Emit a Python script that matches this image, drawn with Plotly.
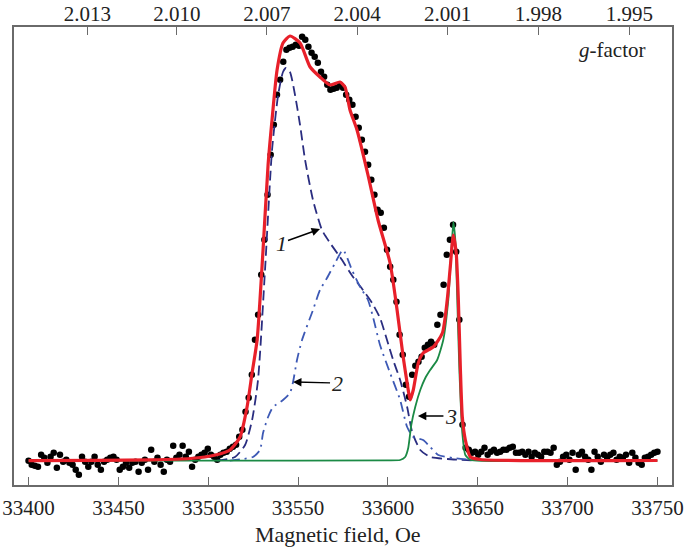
import plotly.graph_objects as go

# ---------------- data ----------------
# experimental spectrum: uniform field grid, intensities read from picture
field_start = 33400.0
field_step = 1.75
intensity = [
    0, -4, -5, -6, 6, 3, -2, 4, 8, -7,
    6, -1, 1, -2, -4, -9, -14, 4, -1, -6,
    -1, 4, -4, -9, -1, 1, 3, 4, 1, -9,
    -6, -2, -7, -2, -1, -11, -2, 1, -9, 11,
    -1, 3, -4, -11, 1, -1, 15, 3, 6, 15,
    4, 9, -6, 1, 4, 6, 8, 12, 6, 4,
    1, 6, 8, 9, 12, 14, 16, 24, 31, 49,
    63, 86, 121, 146, 186, 221, 266, 306, 336, 366,
    381, 399, 411, 413, 414, 416, 415, 424, 421, 414,
    408, 404, 398, 389, 384, 376, 371, 372, 373, 376,
    373, 366, 361, 356, 344, 333, 321, 309, 296, 281,
    266, 251, 248, 233, 211, 194, 181, 159, 126, 106,
    76, 64, 86, 95, 99, 104, 113, 116, 119, 116,
    136, 146, 176, 206, 221, 236, 209, 141, 36, 13,
    11, 8, 9, 6, 9, 13, 6, 9, 11, 8,
    9, 11, 11, 13, 14, 8, 8, 9, 6, 9,
    4, 8, 6, 4, 9, 9, 8, 13, -4, -1,
    4, 6, 1, 8, -9, 6, 9, 4, 1, -9,
    9, 4, -1, 6, 3, 6, 8, 1, 4, 3,
    6, -2, 8, 3, -2, -4, 3, 4, 6, 8,
    9,
]
field = [field_start + field_step * i for i in range(len(intensity))]

# total fit (red)
fit_field = [33400, 33440, 33468, 33490, 33504, 33512.1, 33517.7, 33521.6, 33524.4,
             33527.2, 33530.5, 33533.3, 33535.5, 33538.3, 33541.6, 33545.5, 33551.1,
             33556.7, 33562.2, 33567.8, 33573.3, 33576.1, 33578.9, 33582.8, 33588.9,
             33594.5, 33601.2, 33605.1, 33608.5, 33611.3, 33612.4, 33614.1, 33616.9,
             33619.6, 33625.2, 33630.3, 33633.0, 33634.7, 33636.4, 33638.0, 33639.2,
             33640.3, 33641.4, 33643.1, 33645.9, 33651.5, 33750]
fit_value = [0, 0.3, 0.8, 2.2, 5.7, 10.7, 23.7, 53.7, 87.7,
             120.7, 210.7, 295.7, 340.7, 390.7, 417.7, 424.7, 417.7,
             393.7, 383.7, 375.7, 378.7, 373.7, 350.7, 330.7, 285.7,
             240.7, 197.7, 150.7, 103.7, 70.7, 60.7, 70.7, 97.7,
             107.7, 113.7, 127.7, 160.7, 193.7, 225.7, 207.7, 160.7,
             93.7, 43.7, 20.7, 3.7, 1.2, 0.2]

# component 1 (dashed)
c1_field = [33505, 33514.9, 33520.5, 33524.4, 33527.7, 33531.6, 33535.5, 33538.9,
            33541.6, 33543.3, 33545.5, 33548.3, 33551.1, 33553.9, 33558.3, 33563.3,
            33567.8, 33573.3, 33580.6, 33586.1, 33591.2, 33595.6, 33599.5, 33602.9,
            33606.8, 33610.7, 33613.5, 33618.0, 33623.5, 33633.0, 33648.7]
c1_value = [0, 3.7, 15.7, 40.7, 80.7, 190.7, 310.7, 365.7,
            388.7, 392.7, 388.7, 365.7, 335.7, 300.7, 260.7, 230.7,
            217.7, 203.7, 183.7, 170.7, 157.7, 142.7, 120.7, 100.7,
            80.7, 53.7, 28.7, 10.7, 3.7, 1.7, 0.2]

# component 2 (dash-dot)
c2_field = [33512, 33519.4, 33524.9, 33528.8, 33530.5, 33533.3, 33536.1, 33541.6,
            33545.5, 33547.2, 33549.4, 33552.2, 33558.3, 33562.2, 33566.1, 33570.6,
            33575.0, 33580.0, 33584.5, 33588.9, 33591.7, 33595.6, 33601.2, 33606.8,
            33610.7, 33614.1, 33619.6, 33623.5, 33628.0, 33636.4, 33648.7]
c2_value = [0, 1.7, 3.7, 10.7, 27.7, 43.7, 53.7, 60.7,
            67.7, 78.7, 100.7, 120.7, 150.7, 170.7, 182.7, 197.7,
            210.7, 190.7, 173.7, 160.7, 143.7, 115.7, 87.7, 60.7,
            33.7, 23.7, 20.7, 13.7, 5.7, 2.7, 0.7]

# component 3 (green)
c3_field = [33400, 33500, 33600, 33606.8, 33609.6, 33611.3, 33613.0, 33615.2, 33618.0,
            33620.8, 33623.5, 33627.4, 33630.8, 33633.6, 33635.2, 33636.4, 33637.5,
            33638.6, 33639.7, 33641.4, 33643.1, 33645.9, 33700, 33750]
c3_value = [0, 0, 0.3, 0.7, 3.7, 12.7, 35.7, 53.7, 70.7,
            82.7, 90.7, 100.7, 120.7, 160.7, 207.7, 238.7, 220.7,
            160.7, 93.7, 27.7, 5.7, 0.7, 0, 0]

# axes ticks
field_ticks = [33400, 33450, 33500, 33550, 33600, 33650, 33700, 33750]
g_ticks = [2.013, 2.010, 2.007, 2.004, 2.001, 1.998, 1.995]
g_const = 67300.0  # h*nu/mu_B in Oe
g_tickvals = [g_const / g for g in g_ticks]
g_ticktext = ["%.3f" % g for g in g_ticks]

x_range = [33391.9, 33758.1]
y_range = [-24.3, 433.7]

FONT = "Liberation Serif, Times New Roman, serif"
AXC = "#6a6a6a"
TXT = "#222222"

fig = go.Figure()
fig.add_trace(go.Scatter(x=field, y=intensity, mode="markers",
                         marker=dict(color="black", size=6.5), hoverinfo="skip"))
fig.add_trace(go.Scatter(x=c1_field, y=c1_value, mode="lines",
                         line=dict(color="#2a2d80", width=1.8, dash="10px,5px",
                                   shape="spline", smoothing=0.6)))
fig.add_trace(go.Scatter(x=c2_field, y=c2_value, mode="lines",
                         line=dict(color="#3d59b5", width=1.8, dash="10px,5px,2px,5px",
                                   shape="spline", smoothing=0.6)))
fig.add_trace(go.Scatter(x=c3_field, y=c3_value, mode="lines",
                         line=dict(color="#1b8a45", width=1.8,
                                   shape="spline", smoothing=0.5)))
fig.add_trace(go.Scatter(x=fit_field, y=fit_value, mode="lines",
                         line=dict(color="#e8202a", width=3.2,
                                   shape="spline", smoothing=0.6)))
fig.add_trace(go.Scatter(x=[None], y=[None], xaxis="x2", mode="markers",
                         showlegend=False, hoverinfo="skip"))

fig.update_layout(
    width=685, height=550,
    margin=dict(l=14, r=13, t=27, b=65),
    plot_bgcolor="white", paper_bgcolor="white",
    showlegend=False,
    font=dict(family=FONT, size=21, color=TXT),
    xaxis=dict(range=x_range, tickvals=field_ticks, ticktext=[str(v) for v in field_ticks],
               ticks="inside", ticklen=8, tickwidth=1.3, tickcolor=AXC,
               showline=True, linecolor=AXC, linewidth=1.5,
               showgrid=False, zeroline=False, automargin=False,
               ticklabelstandoff=3,
               tickfont=dict(family=FONT, size=21, color=TXT)),
    xaxis2=dict(range=x_range, overlaying="x", side="top",
                tickvals=g_tickvals, ticktext=g_ticktext,
                ticks="inside", ticklen=8, tickwidth=1.3, tickcolor=AXC,
                showline=True, linecolor=AXC, linewidth=1.5,
                showgrid=False, zeroline=False, automargin=False,
                ticklabelstandoff=-4,
                tickfont=dict(family=FONT, size=21, color=TXT)),
    yaxis=dict(range=y_range, showticklabels=False, ticks="",
               showline=True, mirror=True, linecolor=AXC, linewidth=1.5,
               showgrid=False, zeroline=False, automargin=False),
)

ann_font = dict(family=FONT, size=22, color=TXT)
fig.add_annotation(x=33562.2, y=231.7, xref="x", yref="y", text="<i>1</i>",
                   showarrow=True, ax=-39, ay=14, arrowhead=2, arrowsize=1.2,
                   arrowwidth=1.4, arrowcolor="black", font=ann_font)
fig.add_annotation(x=33547.2, y=78.7, xref="x", yref="y", text="<i>2</i>",
                   showarrow=True, ax=44, ay=1, arrowhead=2, arrowsize=1.2,
                   arrowwidth=1.4, arrowcolor="black", font=ann_font)
fig.add_annotation(x=33616.7, y=44.7, xref="x", yref="y", text="<i>3</i>",
                   showarrow=True, ax=33, ay=0, arrowhead=2, arrowsize=1.2,
                   arrowwidth=1.4, arrowcolor="black", font=ann_font)
fig.add_annotation(x=0.909, y=0.950, xref="paper", yref="paper",
                   text="<i>g</i>-factor", showarrow=False,
                   xanchor="center", yanchor="middle",
                   font=dict(family=FONT, size=21, color=TXT))
fig.add_annotation(x=0.4917, y=-0.109, xref="paper", yref="paper",
                   text="Magnetic field, Oe", showarrow=False,
                   xanchor="center", yanchor="middle",
                   font=dict(family=FONT, size=22, color=TXT))

fig.write_html("out.html")
